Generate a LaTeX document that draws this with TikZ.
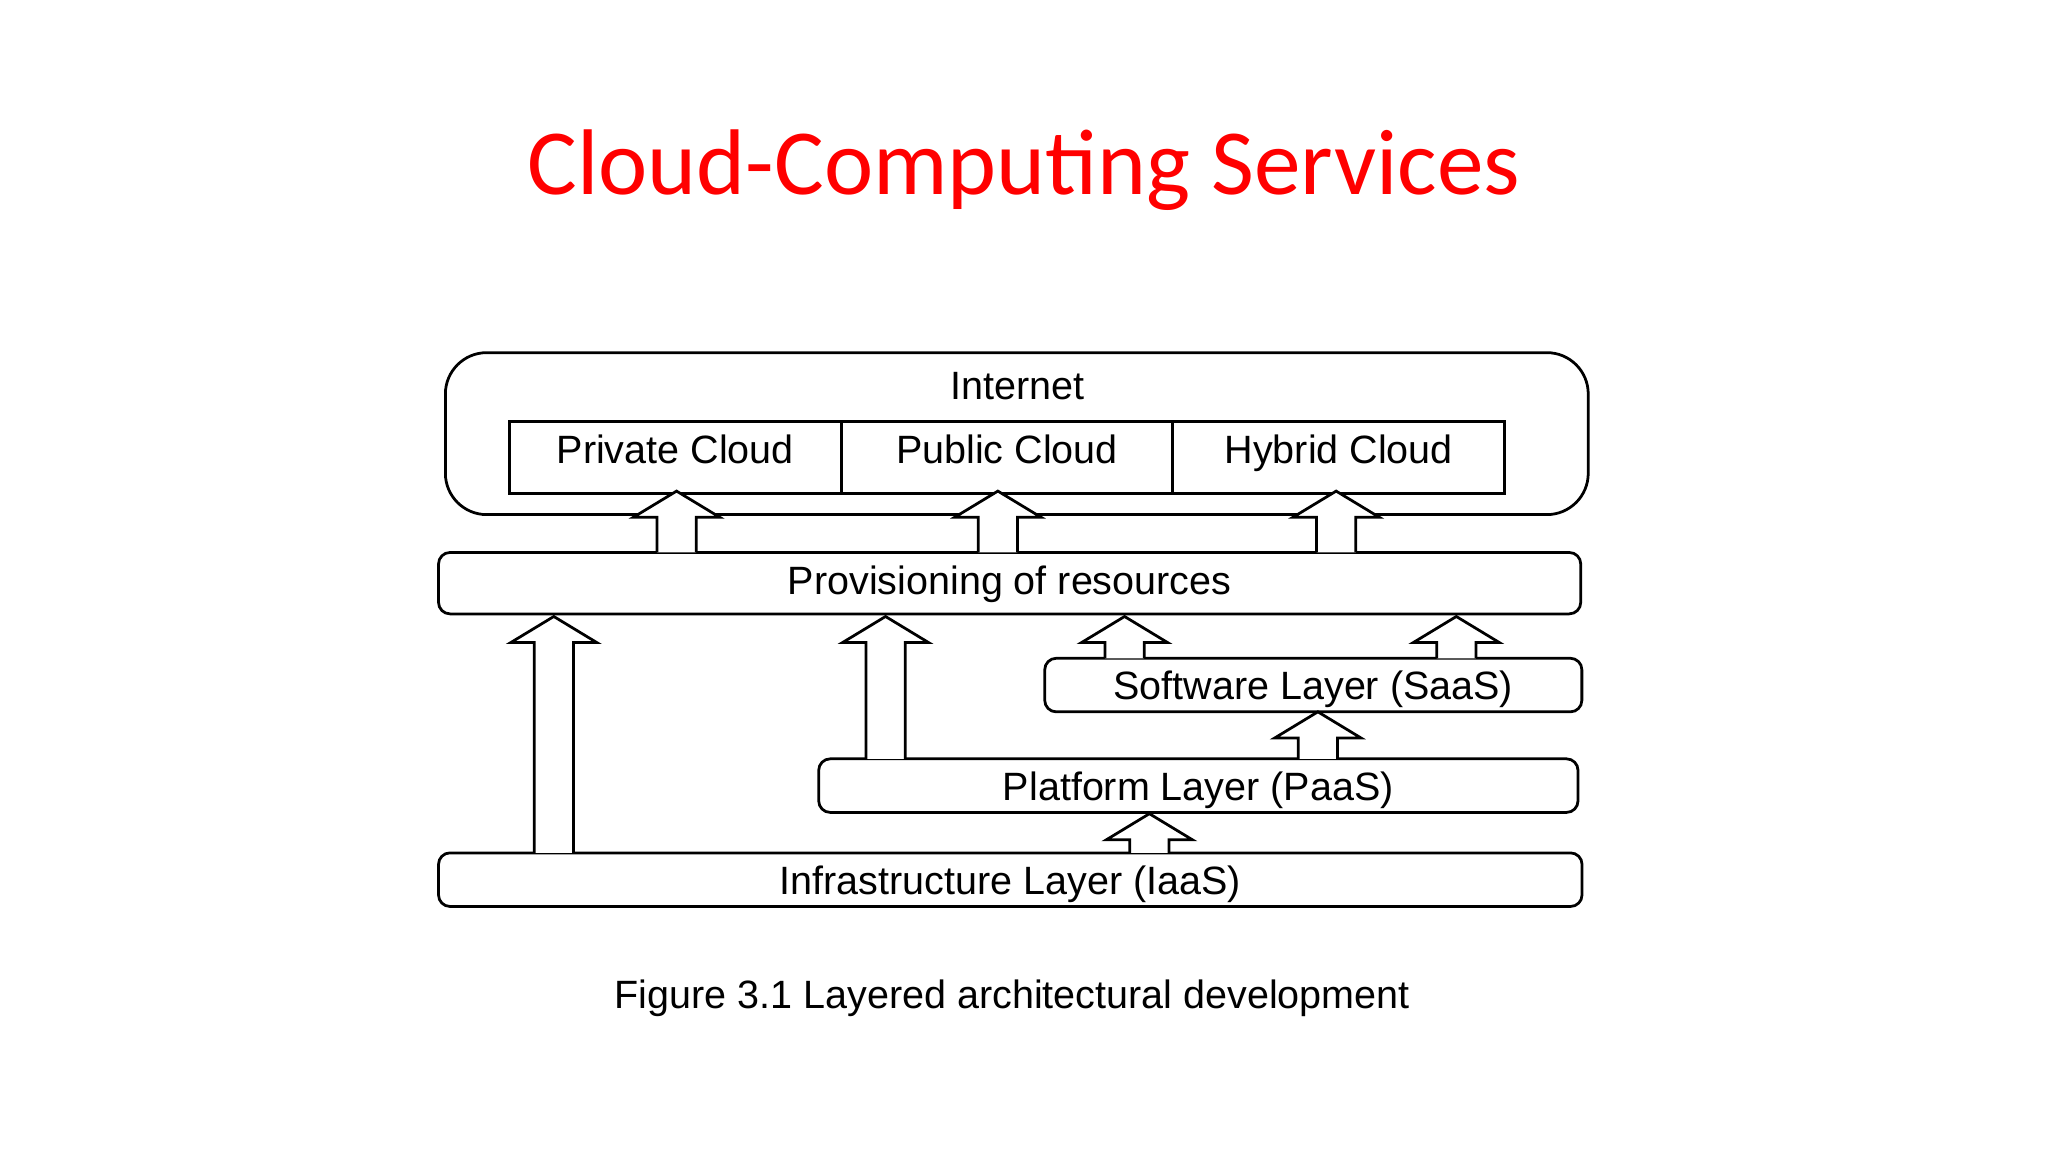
\documentclass[tikz,border=0pt]{standalone}
\usepackage{fontspec}
\setmainfont{Liberation Sans}
\newfontfamily\titlefont{Carlito}
\usetikzlibrary{positioning}

% hollow block arrow: x, bottom y, top y (pixel grid)
\newcommand\upblock[3]{%
  \draw[blockarr] (#1-15,#2) -- (#1-15,#3+20) -- (#1-33,#3+20) -- (#1,#3)
    -- (#1+33,#3+20) -- (#1+15,#3+20) -- (#1+15,#2);}

\begin{document}
\begin{tikzpicture}[x=0.01cm,y=-0.01cm,
    every node/.style={font=\fontsize{8.6}{10}\selectfont,text height=1.6ex,text depth=0.4ex},
    layer/.style={draw,rounded corners=2.5pt,line width=0.6pt,inner sep=0pt},
    cloud/.style={draw,line width=0.6pt,minimum width=2.54cm,minimum height=0.55cm,inner sep=0pt},
    blockarr/.style={draw,line width=0.6pt,fill=white}]
  \useasboundingbox[fill=white] (0,0) rectangle (1568,882);
  \node[text=red,font=\titlefont\fontsize{20.3}{24}\selectfont,text height=,text depth=] (title) at (784,130) {Cloud-Computing Services};

  \draw[layer,rounded corners=9pt] (341,270) rectangle (1216,394);
  \node (internet) at (779,295) {Internet};
  \node[cloud] (private) at (517,350.5) {};
  \node[cloud] (public) at (771,350.5) {};
  \node[cloud] (hybrid) at (1025,350.5) {};
  \node at (517,344) {Private Cloud};
  \node at (771,344) {Public Cloud};
  \node at (1025,344) {Hybrid Cloud};

  \node[layer,minimum width=8.74cm,minimum height=0.47cm] (prov) at (773,446.5) {};
  \node at (773,444) {Provisioning of resources};
  \node[layer,minimum width=4.11cm,minimum height=0.41cm] (saas) at (1005.5,524.5) {Software Layer (SaaS)};
  \node[layer,minimum width=5.81cm,minimum height=0.41cm] (paas) at (917.5,601.5) {Platform Layer (PaaS)};
  \node[layer,minimum width=8.75cm,minimum height=0.41cm] (iaas) at (773.5,673.5) {Infrastructure Layer (IaaS)};

  \upblock{518}{423}{376}
  \upblock{764}{423}{376}
  \upblock{1023}{423}{376}
  \upblock{424}{653}{472}
  \upblock{678}{581}{472}
  \upblock{861}{504}{472}
  \upblock{1115}{504}{472}
  \upblock{1009}{581}{545}
  \upblock{880}{653}{623}

  \node (caption) at (775,761) {Figure 3.1 Layered architectural development};
\end{tikzpicture}
\end{document}
